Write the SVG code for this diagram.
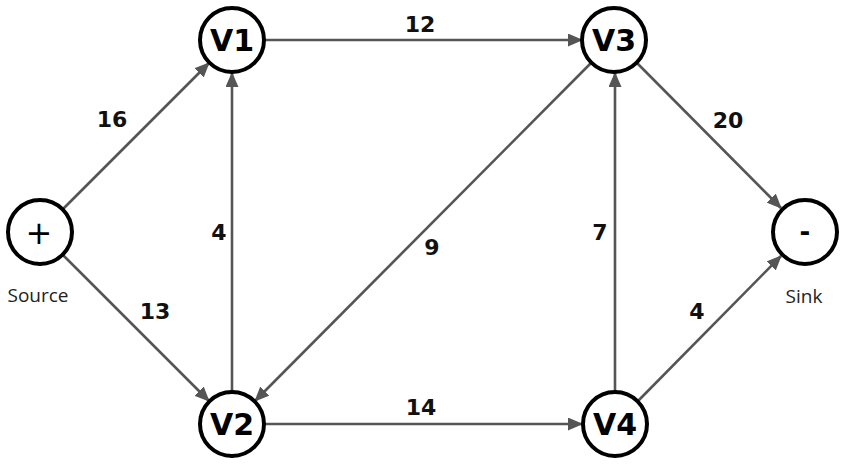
<svg xmlns="http://www.w3.org/2000/svg" width="844" height="464" viewBox="0 0 844 464">
<style>
.node circle{fill:#fff;stroke:#000;stroke-width:4}
.nl{font-family:"DejaVu Sans",sans-serif;font-weight:bold;font-size:30px;fill:#000;text-anchor:middle}
.sym{font-family:"DejaVu Sans",sans-serif;font-size:32px;fill:#000;text-anchor:middle}
.cap{font-family:"Open Sans",sans-serif;font-size:19px;fill:#222;text-anchor:middle}
.edges line{stroke:#555;stroke-width:2.6;marker-end:url(#ah)}
.w{font-family:"DejaVu Sans",sans-serif;font-weight:bold;font-size:22px;fill:#111;text-anchor:middle}
</style>
<defs>
<marker id="ah" markerUnits="userSpaceOnUse" markerWidth="15" markerHeight="13" refX="14" refY="6.5" orient="auto">
<path d="M0,0 L15,6.5 L0,13 Z" fill="#555"/>
</marker>
</defs>
<rect width="844" height="464" fill="#fff"/>
<g id="connectors" class="edges">
<line x1="62" y1="210" x2="209" y2="63"/>
<line x1="62" y1="254" x2="209" y2="401"/>
<line x1="232" y1="392" x2="232" y2="73"/>
<line x1="264" y1="40" x2="582" y2="40"/>
<line x1="591" y1="63" x2="255" y2="401"/>
<line x1="264" y1="424" x2="582" y2="424"/>
<line x1="615" y1="392" x2="615" y2="73"/>
<line x1="637" y1="63" x2="781" y2="208"/>
<line x1="638" y1="401" x2="781" y2="256"/>
</g>
<g id="labels">
<text class="w" x="112" y="127">16</text>
<text class="w" x="155" y="319">13</text>
<text class="w" x="219" y="240">4</text>
<text class="w" x="420" y="32">12</text>
<text class="w" x="432" y="255">9</text>
<text class="w" x="600" y="240">7</text>
<text class="w" x="728" y="128">20</text>
<text class="w" x="697" y="319">4</text>
<text class="w" x="421" y="415">14</text>
</g>
<g id="source" class="node">
<circle cx="40" cy="232" r="32"/>
<text class="sym" x="39" y="244">+</text>
<text class="cap" x="38" y="302">Source</text>
</g>
<g id="v1" class="node">
<circle cx="232" cy="40" r="32"/>
<text class="nl" x="232" y="51">V1</text>
</g>
<g id="v2" class="node">
<circle cx="232" cy="424" r="32"/>
<text class="nl" x="232" y="435">V2</text>
</g>
<g id="v3" class="node">
<circle cx="614" cy="40" r="32"/>
<text class="nl" x="614" y="51">V3</text>
</g>
<g id="v4" class="node">
<circle cx="615" cy="424" r="32"/>
<text class="nl" x="615" y="435">V4</text>
</g>
<g id="sink" class="node">
<circle cx="805" cy="232" r="32"/>
<text class="nl" x="805" y="241" style="font-size:26px">-</text>
<text class="cap" x="804" y="303">Sink</text>
</g>
</svg>
